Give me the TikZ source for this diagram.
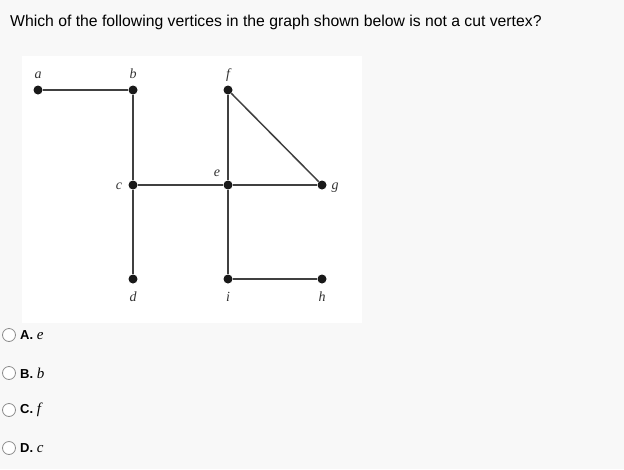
\documentclass[tikz,border=0pt]{standalone}
\usepackage{fontspec}
\setmainfont{Liberation Sans}
\newfontfamily\graphfont{Liberation Serif}
\definecolor{pagebg}{HTML}{F8F8F8}
\definecolor{edgecol}{HTML}{404040}

\tikzset{
  vertex/.style={circle, fill=black!90, inner sep=0pt, minimum size=9pt},
  edge/.style={draw=edgecol, line width=1.5pt},
  vlabel/.style={font=\fontsize{14}{14}\selectfont\graphfont\itshape, inner sep=0pt, text=black!80},
  radio/.style={circle, draw=black!45, fill=white, line width=0.8pt, inner sep=0pt, minimum size=13pt},
  answer/.style={anchor=west, inner sep=0pt, font=\fontsize{13}{13}\selectfont\bfseries},
}

\begin{document}
\begin{tikzpicture}[x=1pt, y=-1pt]
        \useasboundingbox (0,0) rectangle (624,469);
        \fill[pagebg] (0,0) rectangle (624,469);

        \node[anchor=west, inner sep=0pt, font=\fontsize{15.75}{15.75}\selectfont] (question) at (10,22)
            {Which of the following vertices in the graph shown below is not a cut vertex?};

        \fill[white] (22,56) rectangle (362,323);

        \node[vertex] (a) at (38,90) {};
        \node[vertex] (b) at (133,90) {};
        \node[vertex] (f) at (228,90) {};
        \node[vertex] (c) at (133,185) {};
        \node[vertex] (e) at (228,185) {};
        \node[vertex] (g) at (322,185) {};
        \node[vertex] (d) at (133,279) {};
        \node[vertex] (i) at (228,279) {};
        \node[vertex] (h) at (322,279) {};

        \draw[edge] (a) -- (b);
        \draw[edge] (b) -- (c);
        \draw[edge] (c) -- (d);
        \draw[edge] (c) -- (e);
        \draw[edge] (e) -- (g);
        \draw[edge] (f) -- (e);
        \draw[edge] (f) -- (g);
        \draw[edge] (e) -- (i);
        \draw[edge] (i) -- (h);

        \node[vlabel] (la) at (38,75) {a};
        \node[vlabel] (lb) at (133,74) {b};
        \node[vlabel] (lf) at (228,75) {f};
        \node[vlabel] (lc) at (119,186) {c};
        \node[vlabel] (le) at (217,173) {e};
        \node[vlabel] (lg) at (335,188) {g};
        \node[vlabel] (ld) at (133,297) {d};
        \node[vlabel] (li) at (228,297) {i};
        \node[vlabel] (lh) at (322,297) {h};

        \node[radio] (ra) at (9,335) {};
        \node[answer] (ta) at (20,335) {A. {\fontsize{15}{15}\selectfont\graphfont\itshape\mdseries e}};
        \node[radio] (rb) at (9,373) {};
        \node[answer] (tb) at (20,373) {B. {\fontsize{15}{15}\selectfont\graphfont\itshape\mdseries b}};
        \node[radio] (rc) at (9,410) {};
        \node[answer] (tc) at (20,410) {C. {\fontsize{15}{15}\selectfont\graphfont\itshape\mdseries f}};
        \node[radio] (rd) at (9,448) {};
        \node[answer] (td) at (20,448) {D. {\fontsize{15}{15}\selectfont\graphfont\itshape\mdseries c}};
      \end{tikzpicture}
\end{document}
